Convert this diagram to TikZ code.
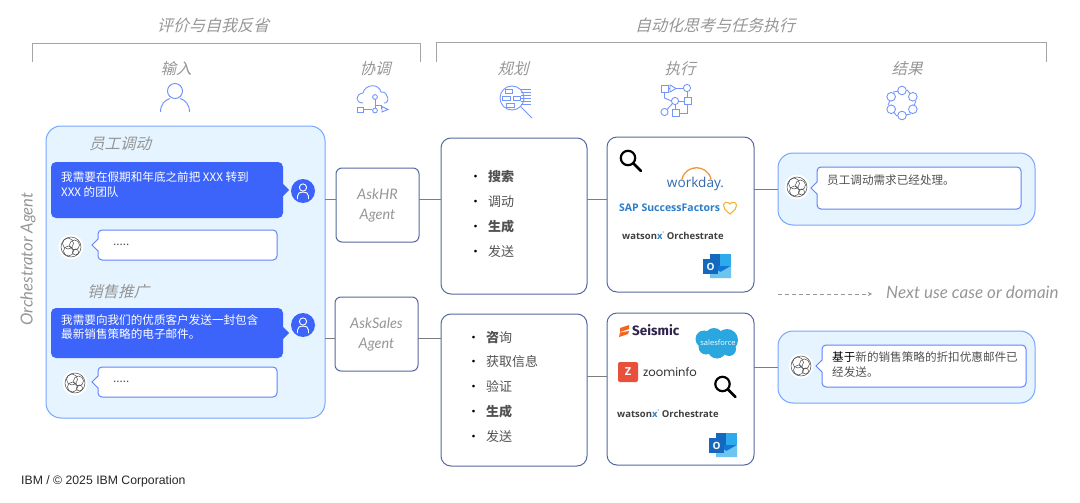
\documentclass[tikz,border=0pt]{standalone}
\usepackage{fontspec}
\usetikzlibrary{shapes,arrows,positioning,calc}
\setmainfont{Noto Sans CJK SC}
\newfontfamily\cjkslant[FakeSlant=0.25]{Noto Sans CJK SC}
\newfontfamily\plexlike{Lato}
\newfontfamily\logofont{Open Sans}
\newfontfamily\seisfont{Fira Sans}
\newfontfamily\zoomfont{Poppins}
\newfontfamily\footfont{Liberation Sans}

\definecolor{panelblue}{RGB}{229,244,255}
\definecolor{paneledge}{RGB}{120,165,255}
\definecolor{bubbleblue}{RGB}{61,100,250}
\definecolor{boxedge}{RGB}{85,105,160}
\definecolor{headgray}{RGB}{150,150,150}
\definecolor{bracketgray}{RGB}{165,165,165}
\definecolor{linegray}{RGB}{125,125,125}
\definecolor{textgray}{RGB}{82,82,82}
\definecolor{iconblue}{RGB}{115,150,250}
\definecolor{sapblue}{RGB}{45,125,200}
\definecolor{workdayblue}{RGB}{50,105,175}
\definecolor{workdayorange}{RGB}{240,150,50}
\definecolor{sapyellow}{RGB}{240,180,50}
\definecolor{sfblue}{RGB}{42,167,223}
\definecolor{zoomred}{RGB}{232,80,60}
\definecolor{seisorange}{RGB}{245,100,30}
\definecolor{seisdark}{RGB}{45,35,75}
\definecolor{outdark}{RGB}{20,105,190}
\definecolor{outmid}{RGB}{15,120,212}
\definecolor{outlight}{RGB}{45,170,235}

\tikzstyle{phasehead} = [font=\cjkslant\fontsize{16}{18}\selectfont, text=headgray, inner sep=0pt]
\tikzstyle{stephead} = [font=\cjkslant\fontsize{15.5}{18}\selectfont, text=headgray, inner sep=0pt]
\tikzstyle{bracket} = [color=bracketgray, line width=1pt]
\tikzstyle{panel} = [rectangle, rounded corners=15pt, draw=paneledge, fill=panelblue, line width=1pt, outer sep=0pt]
\tikzstyle{stagebox} = [rectangle, rounded corners=10pt, draw=boxedge, fill=white, line width=1pt, outer sep=0pt]
\tikzstyle{askbox} = [rectangle, rounded corners=6pt, draw=boxedge, fill=white, line width=1pt, outer sep=0pt, align=center, text=headgray, font=\plexlike\itshape\fontsize{14.5}{20}\selectfont]
\tikzstyle{userbubble} = [rectangle, rounded corners=5pt, fill=bubbleblue, outer sep=0pt]
\tikzstyle{replybubble} = [rectangle, rounded corners=4pt, draw=bubbleblue!80, fill=white, line width=1pt, outer sep=0pt]
\tikzstyle{usertext} = [anchor=west, align=left, text=white, inner sep=0pt, font=\fontsize{11.6}{14.5}\selectfont]
\tikzstyle{replytext} = [anchor=west, align=left, text=textgray, inner sep=0pt, font=\fontsize{11.6}{15}\selectfont]
\tikzstyle{listitem} = [anchor=west, text=textgray, inner sep=0pt, text height=11pt, text depth=3pt, font=\fontsize{13}{15}\selectfont]
\tikzstyle{link} = [color=linegray, line width=0.9pt]
\tikzstyle{icon} = [color=iconblue, line width=0.9pt]

\tikzset{
  pics/person/.style={code={
    \draw[icon, line width=1pt] (0,-6) circle (7.5);
    \draw[icon, line width=1pt] (-14.5,15) .. controls (-14.5,7) and (-10,3) .. (-5,1.5);
    \draw[icon, line width=1pt] (14.5,15) .. controls (14.5,7) and (10,3) .. (5,1.5);
  }},
  pics/cloudflow/.style={code={
    \draw[icon] (-12,3) .. controls (-20,3) and (-20,-6) .. (-12,-7) .. controls (-10,-16) and (4,-17) .. (6,-8) .. controls (14,-9) and (15,4) .. (9,3);
    \draw[icon] (-18,7) rectangle (-12,12);
    \draw[icon] (-12,9.5) -- (-3,9.5);
    \draw[icon] (0,10.5) circle (2.4);
    \draw[icon] (0,-3) circle (2.4);
    \draw[icon] (0,-0.6) -- (0,8);
    \draw[icon] (0,5) -- (6,5) -- (6,9.5);
    \draw[icon] (7,6.5) -- (13,9.5) -- (7,12) -- cycle;
  }},
  pics/lens/.style={code={
    \draw[icon] (0,0) circle (12);
    \draw[icon] (9,9) -- (20,20);
    \foreach \yy in {-9,-6,-3,0,3,6} {\draw[icon] (9,\yy) -- (19,\yy);}
    \draw[icon] (-7,-9) rectangle (0,-5);
    \draw[icon] (-10,-2) rectangle (-2,2);
    \draw[icon] (1,-2) rectangle (8,2);
    \draw[icon] (-6,5) rectangle (2,9);
  }},
  pics/flowchart/.style={code={
    \draw[icon] (-19,-15) rectangle (-12,-8);
    \draw[icon] (-10,-15) -- (-4,-11.5) -- (-10,-8) -- cycle;
    \draw[icon] (-12,-11.5) -- (-10,-11.5);
    \draw[icon] (-4,-11.5) -- (3,-11.5);
    \draw[icon] (7,-12) circle (3.6);
    \draw[icon] (7,-8.4) -- (7,-3);
    \draw[icon] (-5,1) circle (3.6);
    \draw[icon] (4,-3) rectangle (11,4);
    \draw[icon] (-1.4,1) -- (4,1);
    \draw[icon] (-15.5,-8) -- (-15.5,-2) -- (-8.4,1);
    \draw[icon] (-15.5,12) circle (3.6);
    \draw[icon] (-13,9.5) -- (-7.5,3.5);
    \draw[icon] (-8,9) rectangle (-1,16);
    \draw[icon] (-5,4.6) -- (-5,9);
    \draw[icon] (-1,13) -- (7,13) -- (7,4);
  }},
  pics/hexring/.style={code={
    \foreach \ang in {90,30,-30,-90,-150,150} {
      \draw[icon] (\ang:12.5) circle (4.3);
      \draw[icon] ($(\ang:12.5)+(\ang-100:4.3)$) -- ($(\ang:12.5)+(\ang-100:9)$);
    }
  }},
  pics/agentglobe/.style={code={
    \fill[white] (0,0) circle (12.5);
    \draw[black!70, line width=0.5pt] (0,0) circle (10);
    \draw[black!70, line width=0.5pt] (-3,-3.5) circle (5.5);
    \draw[black!70, line width=0.5pt] (3.5,-2) circle (5);
    \draw[black!70, line width=0.5pt] (-2.5,4) circle (5);
    \draw[black!70, line width=0.5pt] (4.5,5) circle (3);
  }},
  pics/useravatar/.style={code={
    \fill[bubbleblue] (0,0) circle (12);
    \draw[white, line width=0.9pt] (0,-3.5) circle (3.6);
    \draw[white, line width=0.9pt] (-5.5,8) -- (-5.5,5) .. controls (-5.5,2) and (-3,1) .. (0,1) .. controls (3,1) and (5.5,2) .. (5.5,5) -- (5.5,8);
  }},
  pics/glass/.style={code={
    \draw[black, line width=2.2pt] (-3,-3) circle (7.2);
    \draw[black, line width=2.8pt, line cap=round] (2.4,2.4) -- (10,10);
  }},
  pics/outlookmark/.style={code={
    \fill[outmid] (-7,-12) rectangle (14,12);
    \fill[outlight] (3,-12) rectangle (14,0);
    \fill[outdark] (-7,-12) rectangle (3,0);
    \fill[outlight!70!white] (-7,0) -- (3.5,6) -- (14,0) -- (14,12) -- (-7,12) -- cycle;
    \fill[outdark] (-14,-7) rectangle (1,8);
    \node[inner sep=0pt, text=white, font=\logofont\bfseries\fontsize{10}{10}\selectfont] (om) at (-6.5,0.5) {O};
  }}
}

\newcommand{\lefttail}[1]{
  \fill[white] ($(#1.west)+(1,-6)$) -- ($(#1.west)+(-6,0)$) -- ($(#1.west)+(1,6)$) -- cycle;
  \draw[bubbleblue!80, line width=1pt] ($(#1.west)+(0,-6)$) -- ($(#1.west)+(-6,0)$) -- ($(#1.west)+(0,6)$);
}
\newcommand{\righttail}[1]{
  \fill[bubbleblue] ($(#1.east)+(-1,-7)$) -- ($(#1.east)+(6,0)$) -- ($(#1.east)+(-1,7)$) -- cycle;
}

\begin{document}
\begin{tikzpicture}[x=1pt, y=-1pt]
\useasboundingbox (0,0) rectangle (1080,503);

% Phase titles
\node[phasehead] (evalhead) at (213,25) {评价与自我反省};
\node[phasehead] (autohead) at (715,25) {自动化思考与任务执行};
\coordinate (bl1) at (32,62);
\coordinate (bl2) at (420,62);
\coordinate (br1) at (436,62);
\coordinate (br2) at (1046,62);
\draw[bracket] (bl1) -- ++(0,-18) -| (bl2);
\draw[bracket] (br1) -- ++(0,-19) -| (br2);

% Step titles and icons
\node[stephead] (inhead) at (176,69) {输入};
\node[stephead] (cohead) at (375,69) {协调};
\node[stephead] (plhead) at (513,69) {规划};
\node[stephead] (exhead) at (680,69) {执行};
\node[stephead] (rehead) at (907,69) {结果};
\pic at (175,97) {person};
\pic at (375,100) {cloudflow};
\pic at (512,98) {lens};
\pic at (680,100) {flowchart};
\pic at (902,103) {hexring};

% Orchestrator panel
\node[panel, minimum width=279pt, minimum height=292pt] (orch) at (185.5,272) {};
\node[text=headgray, rotate=90, inner sep=0pt, font=\plexlike\itshape\fontsize{16.6}{18}\selectfont] (orchlabel) at (28,259) {Orchestrator Agent};

% First use case
\node[stephead] (hrcase) at (120,144) {员工调动};
\node[userbubble, minimum width=232pt, minimum height=56pt] (hrask) at (167,190) {};
\righttail{hrask}
\node[usertext] (hrasktext) at (61,184.5) {我需要在假期和年底之前把 XXX 转到\\XXX 的团队};
\pic at (303,191) {useravatar};
\node[replybubble, minimum width=179pt, minimum height=30pt] (hrreply) at (187.5,245) {};
\lefttail{hrreply}
\node[replytext] (hrreplytext) at (113,245) {.....};
\pic at (71,247) {agentglobe};

% Second use case
\node[stephead] (salescase) at (118,292) {销售推广};
\node[userbubble, minimum width=232pt, minimum height=50pt] (salesask) at (167,333) {};
\righttail{salesask}
\node[usertext] (salesasktext) at (61,327) {我需要向我们的优质客户发送一封包含\\最新销售策略的电子邮件。};
\pic at (303,325) {useravatar};
\node[replybubble, minimum width=179pt, minimum height=30pt] (salesreply) at (187.5,382) {};
\lefttail{salesreply}
\node[replytext] (salesreplytext) at (113,382) {.....};
\pic at (75,383) {agentglobe};

% Agents
\node[askbox, minimum width=83pt, minimum height=74pt] (askhr) at (377.5,205) {AskHR\\Agent};
\node[askbox, minimum width=83pt, minimum height=74pt] (asksales) at (376.5,334) {AskSales\\Agent};

% Plans
\node[stagebox, minimum width=146pt, minimum height=156pt] (plan1) at (514,216) {};
\foreach \yy/\itm in {177/{\bfseries 搜索},202/调动,227/{\bfseries 生成},252/发送}
  \node[listitem] (p\yy) at (469,\yy) {\makebox[19pt][l]{\textcolor{black}{•}}\itm};
\node[stagebox, minimum width=146pt, minimum height=152pt] (plan2) at (514,390) {};
\foreach \yy/\itm in {338/{{\bfseries 咨}询},362/获取信息,387/验证,412/{\bfseries 生成},437/发送}
  \node[listitem] (q\yy) at (467,\yy) {\makebox[19pt][l]{\textcolor{black}{•}}\itm};

% Tools of the first use case
\node[stagebox, minimum width=147pt, minimum height=155pt] (exec1) at (680.5,214.5) {};
\pic at (631,161) {glass};
\draw[workdayorange, line width=1.3pt] (682,179) .. controls (686,164) and (707,164) .. (711,179);
\node[inner sep=0pt, text=workdayblue, font=\logofont\fontsize{13.6}{15}\selectfont] (workday) at (695.5,184) {workday.};
\node[inner sep=0pt, anchor=west, text=sapblue, font=\logofont\bfseries\fontsize{10.5}{12}\selectfont] (sapsf) at (619,208) {SAP SuccessFactors};
\draw[sapyellow, line width=1.1pt] (730,214) .. controls (725,210) and (723.5,208) .. (723.5,205.5) .. controls (723.5,202) and (728,201) .. (730,204) .. controls (732,201) and (736.5,202) .. (736.5,205.5) .. controls (736.5,208) and (735,210) .. (730,214) -- cycle;
\node[inner sep=0pt, anchor=west, text=black!75, font=\logofont\bfseries\fontsize{9.5}{11}\selectfont] (wxa) at (622,235.5) {watson\textcolor{sapblue}{x}\textsuperscript{\tiny\textquotesingle} Orchestrate};
\pic at (717,266) {outlookmark};

% Tools of the second use case
\node[stagebox, minimum width=147pt, minimum height=152pt] (exec2) at (680.5,389) {};
\fill[seisorange] (620,328) -- (629,325) -- (629,329) -- (620,332) -- cycle;
\fill[seisorange] (620,332.5) -- (629,331) -- (628,334) -- (619,337) -- cycle;
\node[inner sep=0pt, anchor=west, text=seisdark, font=\seisfont\bfseries\fontsize{13.5}{15}\selectfont] (seismic) at (632,330.5) {Seismic};
\fill[sfblue] (704,339) circle (8.5) (714,337) circle (9) (727,340) circle (11) (717,349) circle (9.5) (706,347) circle (7.5) (729,349) circle (7);
\node[inner sep=0pt, text=white, font=\logofont\fontsize{7.5}{9}\selectfont] (salesforce) at (718,343) {salesforce};
\node[rectangle, rounded corners=2pt, fill=zoomred, text=white, minimum size=20pt, inner sep=0pt, font=\logofont\bfseries\fontsize{11}{12}\selectfont] (zoombadge) at (628,372) {Z};
\node[inner sep=0pt, anchor=west, text=black!80, font=\zoomfont\fontsize{11.6}{14}\selectfont] (zoominfo) at (643,372) {zoominfo};
\pic at (725.5,387) {glass};
\node[inner sep=0pt, anchor=west, text=black!75, font=\logofont\bfseries\fontsize{9.5}{11}\selectfont] (wxb) at (617,413.5) {watson\textcolor{sapblue}{x}\textsuperscript{\tiny\textquotesingle} Orchestrate};
\pic at (723,445) {outlookmark};

% Results
\node[panel, minimum width=257pt, minimum height=72pt] (res1) at (906.5,189) {};
\node[replybubble, minimum width=204pt, minimum height=42pt] (res1say) at (919,188) {};
\lefttail{res1say}
\node[replytext, anchor=north west] (res1text) at (827,175) {员工调动需求已经处理。};
\pic at (797,187) {agentglobe};
\node[panel, minimum width=257pt, minimum height=72pt] (res2) at (906.5,367) {};
\node[replybubble, minimum width=204pt, minimum height=42pt] (res2say) at (924,366) {};
\lefttail{res2say}
\node[replytext, anchor=west] (res2text) at (832,364.5) {\textcolor{black}{基于}新的销售策略的折扣优惠邮件已\\经发送。};
\pic at (801,366) {agentglobe};

% Connectors
\coordinate (rowa) at (0,199);
\coordinate (rowb) at (0,338);
\coordinate (rowc) at (0,189);
\coordinate (rowd) at (0,376);
\coordinate (rowe) at (0,367);
\draw[link] (orch.east |- rowa) -- (askhr.west |- rowa);
\draw[link] (askhr.east |- rowa) -- (plan1.west |- rowa);
\draw[link] (plan1.east |- rowa) -- (exec1.west |- rowa);
\draw[link] (exec1.east |- rowc) -- (res1.west |- rowc);
\draw[link] (orch.east |- rowb) -- (asksales.west |- rowb);
\draw[link] (asksales.east |- rowb) -- (plan2.west |- rowb);
\draw[link] (plan2.east |- rowd) -- (exec2.west |- rowd);
\draw[link] (exec2.east |- rowe) -- (res2.west |- rowe);

% Next use case
\node[inner sep=0pt, anchor=west, text=headgray, font=\plexlike\itshape\fontsize{17}{19}\selectfont] (nextcase) at (886,292) {Next use case or domain};
\coordinate (nextstart) at (778,294);
\coordinate (nextend) at (872,294);
\draw[headgray, line width=0.9pt, dash pattern=on 4pt off 3pt, ->, >=stealth] (nextstart) -- (nextend);

% Footer
\node[inner sep=0pt, anchor=west, text=black!85, font=\footfont\fontsize{12.25}{14}\selectfont] (footer) at (21,481) {IBM / © 2025 IBM Corporation};

\end{tikzpicture}
\end{document}
